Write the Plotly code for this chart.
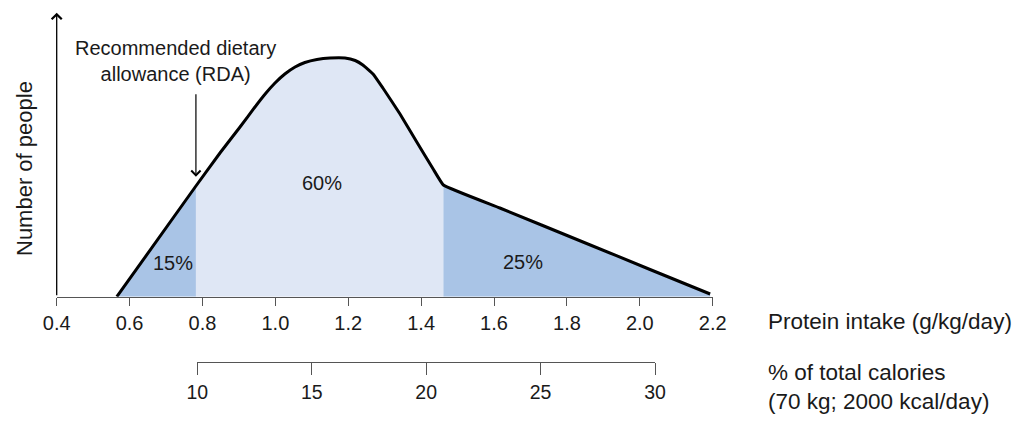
import plotly.graph_objects as go

W, H = 1024, 427

# ---- data ----
protein_intake = [0.565, 0.782, 0.848, 0.903, 0.944, 0.972, 0.999, 1.026, 1.054, 1.081,
                  1.114, 1.150, 1.191, 1.219, 1.240, 1.268, 1.295, 1.342, 1.388, 1.433,
                  1.461, 1.616, 1.844, 2.028, 2.193]
number_of_people = [0.0, 110.7, 143.7, 169.7, 189.7, 202.7, 213.7, 222.7, 229.7, 234.2,
                    237.2, 238.7, 238.7, 236.2, 231.7, 222.7, 208.7, 182.7, 154.7, 127.7,
                    111.7, 88.7, 54.7, 27.2, 2.7]
rda_boundary = 0.782
upper_boundary = 1.461
region_labels = ["15%", "60%", "25%"]
protein_ticks = [0.4, 0.6, 0.8, 1.0, 1.2, 1.4, 1.6, 1.8, 2.0, 2.2]
calorie_ticks = [10, 15, 20, 25, 30]
y_max = 284

FONT = "Liberation Sans, Arial, sans-serif"
TXT = "#1a1a1a"
AX = "#555555"
DARK = "#a9c4e6"
LIGHT = "#dfe7f5"


def px(x):
    return x / W


def py(y):
    return 1 - y / H


def segment(lo, hi):
    xs, ys = [], []
    for x, y in zip(protein_intake, number_of_people):
        if lo <= x <= hi:
            xs.append(x)
            ys.append(y)
    return xs, ys


fig = go.Figure()
for (lo, hi), col in zip([(protein_intake[0], rda_boundary),
                          (rda_boundary, upper_boundary),
                          (upper_boundary, protein_intake[-1])],
                         [DARK, LIGHT, DARK]):
    xs, ys = segment(lo, hi)
    fig.add_trace(go.Scatter(x=xs, y=ys, fill="tozeroy", fillcolor=col,
                             mode="lines", line=dict(width=0), hoverinfo="skip"))

fig.add_trace(go.Scatter(x=protein_intake, y=number_of_people, mode="lines",
                         line=dict(color="black", width=3, shape="spline", smoothing=0.3),
                         hoverinfo="skip"))

# invisible trace to carry the calorie axis
fig.add_trace(go.Scatter(x=[calorie_ticks[0], calorie_ticks[-1]], y=[0, 0],
                         xaxis="x2", yaxis="y", mode="markers",
                         marker=dict(opacity=0), hoverinfo="skip"))

# region labels (placed in pixel/paper space)
for t, (lx, ly) in zip(region_labels, [(172.7, 263.3), (321.7, 182.7), (523, 261.7)]):
    fig.add_annotation(x=px(lx), y=py(ly), xref="paper", yref="paper", text=t,
                       showarrow=False, xanchor="center", yanchor="middle",
                       font=dict(family=FONT, size=20, color=TXT))

# y-axis arrow
fig.add_annotation(x=protein_ticks[0], y=y_max, ax=protein_ticks[0], ay=0,
                   xref="x", yref="y", axref="x", ayref="y", text="",
                   showarrow=True, arrowhead=4, arrowsize=1.5, arrowwidth=1.3,
                   arrowcolor="black", standoff=0, startstandoff=0)
# RDA arrow
fig.add_annotation(x=rda_boundary, y=120, ax=rda_boundary, ay=204,
                   xref="x", yref="y", axref="x", ayref="y", text="",
                   showarrow=True, arrowhead=4, arrowsize=1.5, arrowwidth=1.2,
                   arrowcolor="black", standoff=0, startstandoff=0)
fig.add_annotation(x=px(175), y=py(60.5), xref="paper", yref="paper",
                   xanchor="center", yanchor="middle",
                   text="Recommended dietary<br>allowance (RDA)", showarrow=False,
                   font=dict(family=FONT, size=20, color=TXT), align="center")

fig.add_annotation(x=px(24), y=py(169), xref="paper", yref="paper",
                   xanchor="center", yanchor="middle",
                   text="Number of people", textangle=-90, showarrow=False,
                   font=dict(family=FONT, size=22, color=TXT))
fig.add_annotation(x=px(766), y=py(321.5), xref="paper", yref="paper",
                   text="Protein intake (g/kg/day)", showarrow=False,
                   xanchor="left", yanchor="middle",
                   font=dict(family=FONT, size=22.5, color=TXT))
fig.add_annotation(x=px(766), y=py(386.5), xref="paper", yref="paper",
                   text="% of total calories<br>(70 kg; 2000 kcal/day)", showarrow=False,
                   xanchor="left", yanchor="middle", align="left",
                   font=dict(family=FONT, size=22.5, color=TXT))

fig.update_layout(
    width=W, height=H,
    margin=dict(l=0, r=0, t=0, b=0, autoexpand=False),
    paper_bgcolor="white", plot_bgcolor="rgba(0,0,0,0)",
    showlegend=False,
    xaxis=dict(domain=[px(56.7), px(712.7)], range=[protein_ticks[0], protein_ticks[-1]],
               tickvals=protein_ticks, ticktext=[f"{v:.1f}" for v in protein_ticks],
               ticks="outside", ticklen=8, tickwidth=1.3, tickcolor=AX,
               showline=True, linecolor=AX, linewidth=1.3,
               showgrid=False, zeroline=False, automargin=False,
               tickfont=dict(family=FONT, size=20, color=TXT)),
    xaxis2=dict(domain=[px(197.3), px(655)], range=[calorie_ticks[0], calorie_ticks[-1]],
                anchor="free", position=py(362),
                tickvals=calorie_ticks, ticks="outside", ticklen=12, tickwidth=1.3,
                tickcolor=AX, showline=True, linecolor=AX, linewidth=1.3,
                showgrid=False, zeroline=False, automargin=False,
                tickfont=dict(family=FONT, size=19.5, color=TXT)),
    yaxis=dict(domain=[py(296.7), py(12.7)], range=[0, y_max],
               showline=False, showticklabels=False, ticks="",
               showgrid=False, zeroline=False, automargin=False),
)

fig.write_html("out.html")
